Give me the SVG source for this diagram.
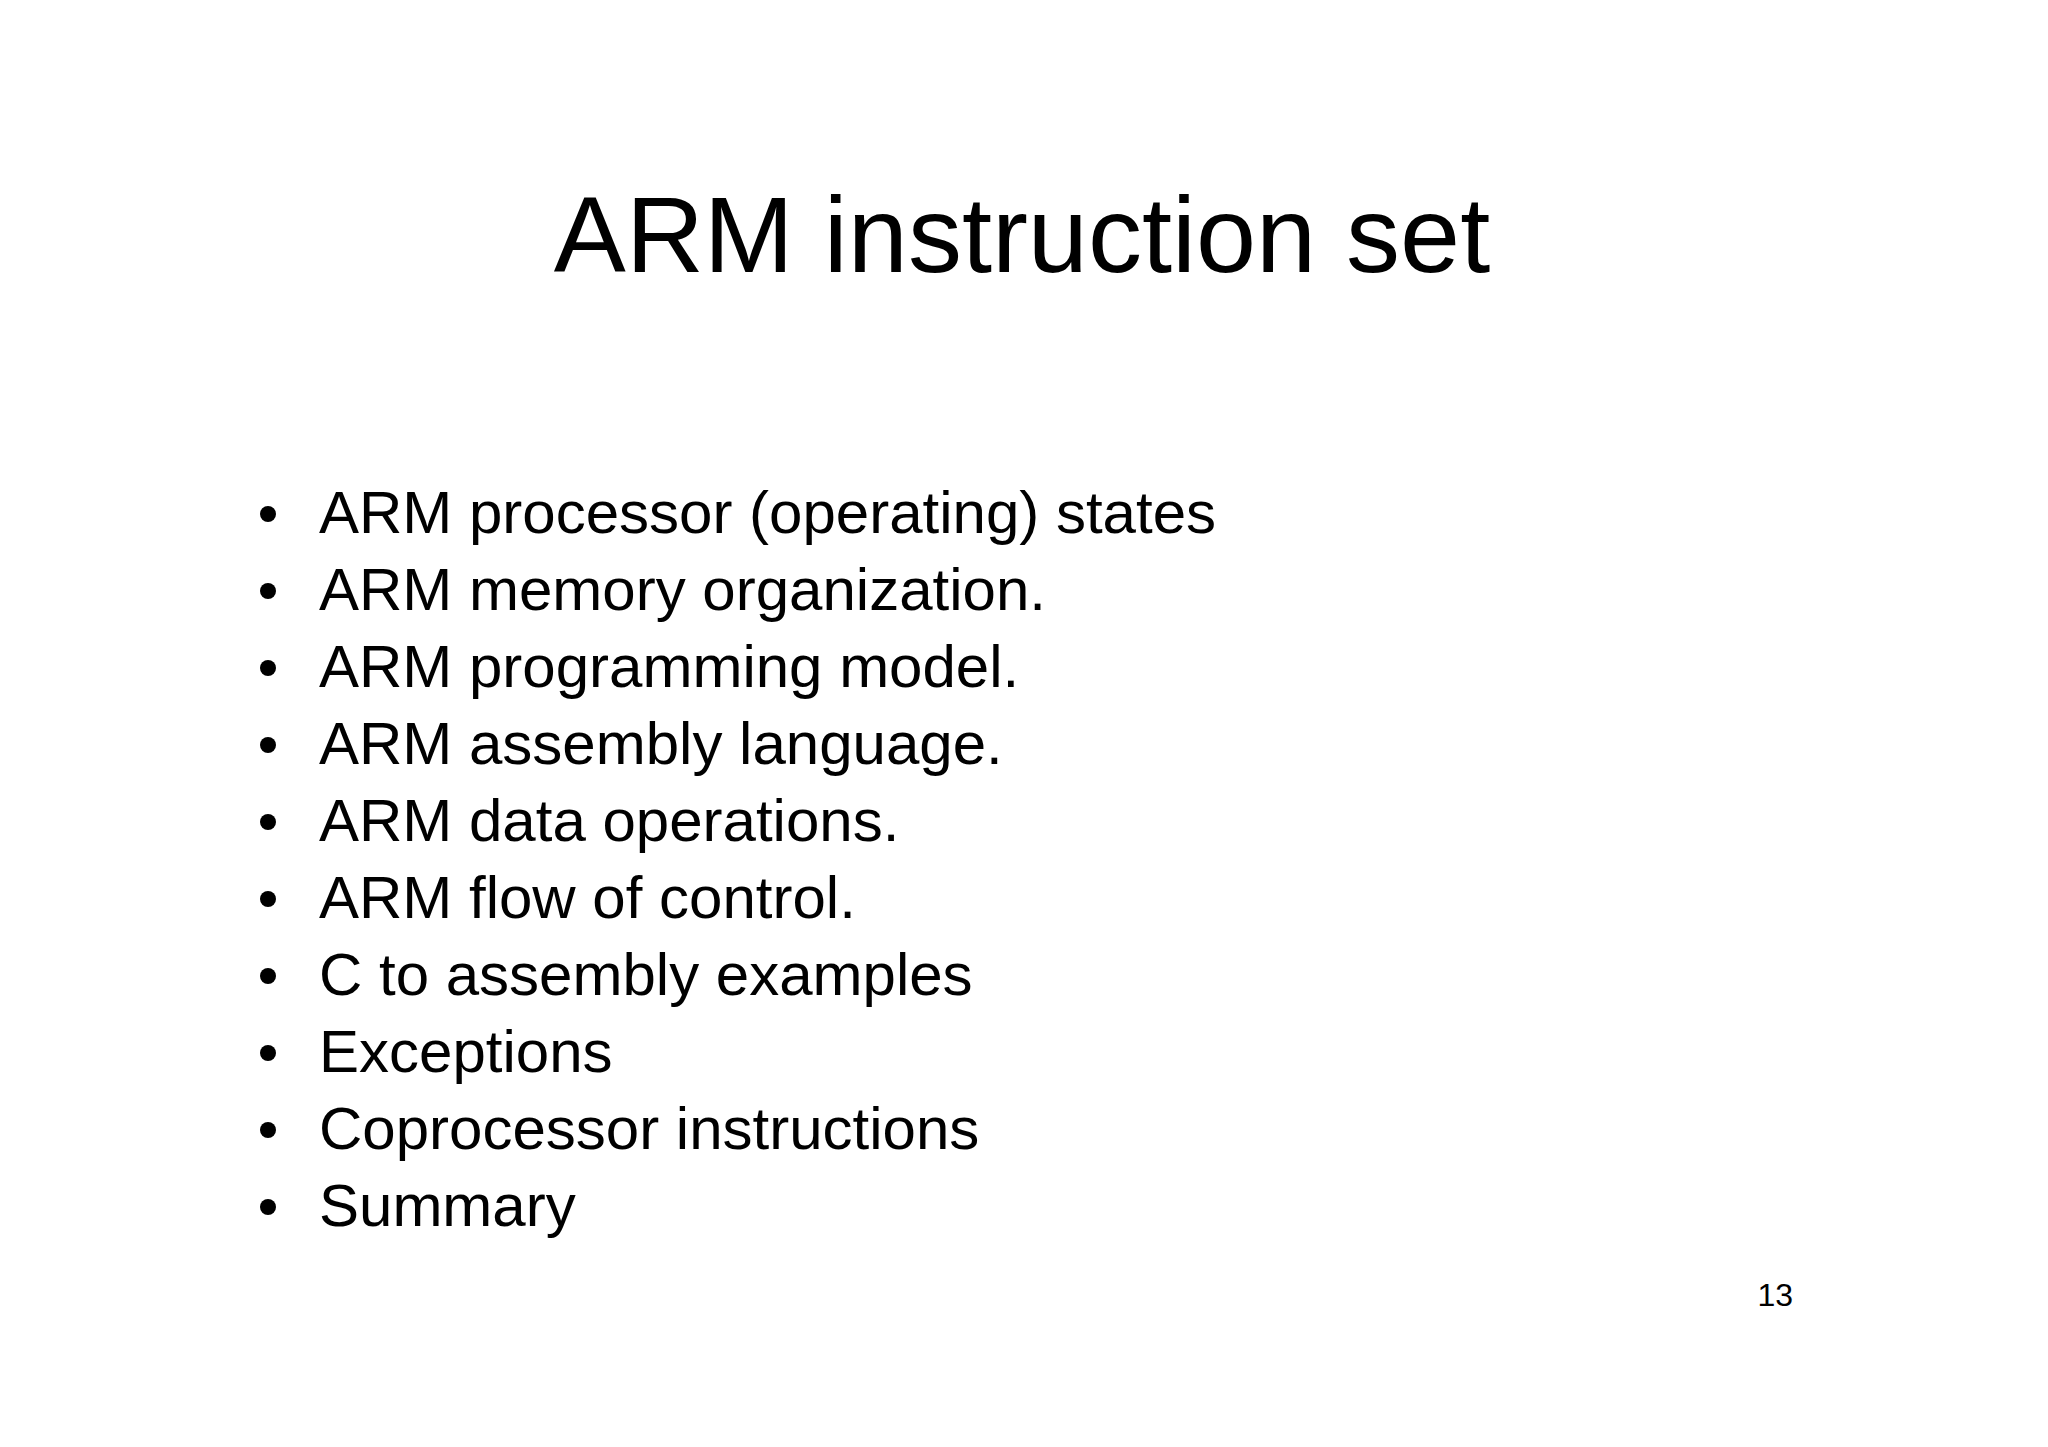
<svg xmlns="http://www.w3.org/2000/svg" width="2048" height="1447" viewBox="0 0 2048 1447">
<style>
text{font-family:"Liberation Sans",Arial,sans-serif;fill:#000}
.b{font-size:60px}
</style>
<rect width="2048" height="1447" fill="#fff"/>
<g id="title"><text x="1022" y="272" font-size="108" text-anchor="middle">ARM instruction set</text></g>
<g id="bullets">
<g id="i1"><circle cx="268" cy="514" r="8"/><text class="b" x="319" y="533">ARM processor (operating) states</text></g>
<g id="i2"><circle cx="268" cy="591" r="8"/><text class="b" x="319" y="610">ARM memory organization.</text></g>
<g id="i3"><circle cx="268" cy="668" r="8"/><text class="b" x="319" y="687">ARM programming model.</text></g>
<g id="i4"><circle cx="268" cy="745" r="8"/><text class="b" x="319" y="764">ARM assembly language.</text></g>
<g id="i5"><circle cx="268" cy="822" r="8"/><text class="b" x="319" y="841">ARM data operations.</text></g>
<g id="i6"><circle cx="268" cy="899" r="8"/><text class="b" x="319" y="918">ARM flow of control.</text></g>
<g id="i7"><circle cx="268" cy="976" r="8"/><text class="b" x="319" y="995">C to assembly examples</text></g>
<g id="i8"><circle cx="268" cy="1053" r="8"/><text class="b" x="319" y="1072">Exceptions</text></g>
<g id="i9"><circle cx="268" cy="1130" r="8"/><text class="b" x="319" y="1149">Coprocessor instructions</text></g>
<g id="i10"><circle cx="268" cy="1207" r="8"/><text class="b" x="319" y="1226">Summary</text></g>
</g>
<g id="page"><text x="1793" y="1306" font-size="32" text-anchor="end">13</text></g>
<g id="connectors"/>
</svg>
